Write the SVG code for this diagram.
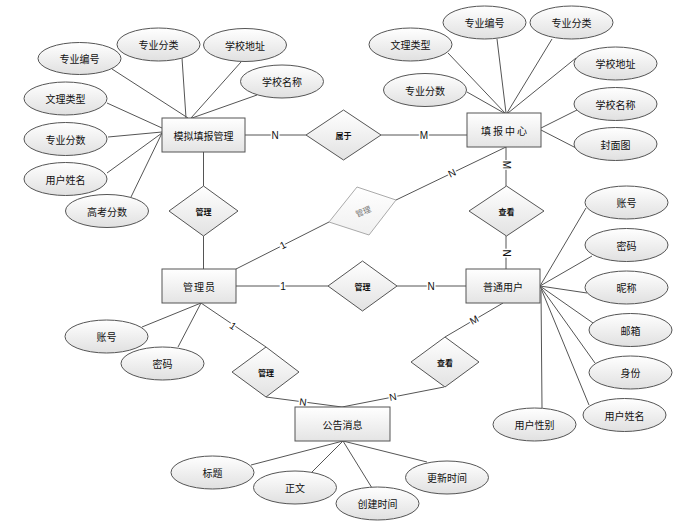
<svg xmlns="http://www.w3.org/2000/svg" width="694" height="527" viewBox="0 0 694 527">
<defs>
<linearGradient id="gE" x1="0" y1="0" x2="0" y2="1"><stop offset="0" stop-color="#ffffff"/><stop offset="1" stop-color="#e4e4e4"/></linearGradient>
<linearGradient id="gA" x1="0" y1="0" x2="0" y2="1"><stop offset="0" stop-color="#ffffff"/><stop offset="1" stop-color="#e0e0e0"/></linearGradient>
<linearGradient id="gR" x1="0" y1="0" x2="0" y2="1"><stop offset="0" stop-color="#ffffff"/><stop offset="1" stop-color="#e2e2e2"/></linearGradient>
<linearGradient id="gF" x1="0" y1="0" x2="0" y2="1"><stop offset="0" stop-color="#ffffff"/><stop offset="1" stop-color="#f0f0f0"/></linearGradient>
</defs>
<style>
text{font-family:"Noto Sans CJK SC","Liberation Sans",sans-serif;fill:#111;text-anchor:middle;dominant-baseline:central}
.ent rect{fill:url(#gE);stroke:#555;stroke-width:1}
.ent text{font-size:10px}
.att ellipse{fill:url(#gA);stroke:#555;stroke-width:1}
.att text{font-size:10px}
.rel polygon{fill:url(#gR);stroke:#555;stroke-width:1}
.rel text{font-size:8px;font-weight:bold}
.faded polygon{fill:url(#gF);stroke:#aaa;stroke-width:1}
.faded text{font-size:8px;fill:#777}
#connectors line{stroke:#555;stroke-width:1}
.card{font-family:"Liberation Sans",sans-serif;font-size:10px;fill:#111;stroke:#fff;stroke-width:3px;paint-order:stroke}
</style>
<rect width="694" height="527" fill="#fff"/>
<g id="connectors">
<line x1="112" y1="69" x2="188" y2="118"/>
<line x1="182" y1="58" x2="186" y2="118"/>
<line x1="241" y1="62" x2="191" y2="118"/>
<line x1="257" y1="95" x2="192" y2="118"/>
<line x1="107" y1="103" x2="162" y2="128"/>
<line x1="108" y1="137" x2="162" y2="132"/>
<line x1="107" y1="173" x2="162" y2="133"/>
<line x1="131" y1="197" x2="162" y2="133"/>
<line x1="448" y1="53" x2="505" y2="113"/>
<line x1="497" y1="39" x2="506" y2="113"/>
<line x1="552" y1="39" x2="507" y2="113"/>
<line x1="576" y1="58" x2="508" y2="113"/>
<line x1="467" y1="92" x2="504" y2="113"/>
<line x1="577" y1="110" x2="541" y2="128"/>
<line x1="576" y1="148" x2="541" y2="130"/>
<line x1="586" y1="208" x2="540" y2="286"/>
<line x1="592" y1="256" x2="540" y2="286"/>
<line x1="587" y1="293" x2="540" y2="286"/>
<line x1="593" y1="323" x2="540" y2="286"/>
<line x1="595" y1="363" x2="540" y2="286"/>
<line x1="589" y1="405" x2="540" y2="286"/>
<line x1="541" y1="290" x2="542" y2="408"/>
<line x1="142" y1="327" x2="201" y2="303"/>
<line x1="178" y1="347" x2="201" y2="303"/>
<line x1="251" y1="465" x2="343" y2="441"/>
<line x1="312" y1="472" x2="343" y2="441"/>
<line x1="372" y1="488" x2="343" y2="441"/>
<line x1="427" y1="462" x2="343" y2="441"/>
<line x1="245" y1="135" x2="306" y2="135"/>
<line x1="381" y1="135" x2="467" y2="135"/>
<line x1="203.5" y1="152" x2="203.5" y2="186"/>
<line x1="203.5" y1="236" x2="203.5" y2="269"/>
<line x1="236" y1="269" x2="329" y2="222"/>
<line x1="396" y1="200" x2="506" y2="147"/>
<line x1="506" y1="147" x2="506" y2="186"/>
<line x1="506" y1="236" x2="506" y2="269"/>
<line x1="236" y1="286" x2="328" y2="286"/>
<line x1="397" y1="286" x2="466" y2="286"/>
<line x1="201" y1="303" x2="266" y2="347"/>
<line x1="266" y1="397" x2="342" y2="407"/>
<line x1="503" y1="303" x2="445" y2="337"/>
<line x1="444" y1="387" x2="342" y2="407"/>
<text class="card" x="275" y="135">N</text>
<text class="card" x="424" y="135">M</text>
<text class="card" transform="translate(283,245) rotate(-27)">1</text>
<text class="card" transform="translate(452,173) rotate(-26)">N</text>
<text class="card" transform="translate(506,165) rotate(90)">M</text>
<text class="card" transform="translate(506,253) rotate(90)">N</text>
<text class="card" x="283" y="286">1</text>
<text class="card" x="431" y="286">N</text>
<text class="card" transform="translate(233,326) rotate(34)">1</text>
<text class="card" transform="translate(303,402) rotate(7)">N</text>
<text class="card" transform="translate(474,320) rotate(-30)">M</text>
<text class="card" transform="translate(393,397) rotate(-11)">N</text>
</g>
<g id="e-mnt" class="ent"><rect x="162" y="118" width="83" height="34"/><text x="203.5" y="135">模拟填报管理</text></g>
<g id="e-tbzx" class="ent"><rect x="467" y="113" width="74" height="34"/><text x="505" y="130" style="letter-spacing:2px">填报中心</text></g>
<g id="e-gly" class="ent"><rect x="162" y="269" width="74" height="34"/><text x="199.5" y="286" style="letter-spacing:1px">管理员</text></g>
<g id="e-ptyh" class="ent"><rect x="466" y="269" width="74" height="34"/><text x="503" y="286">普通用户</text></g>
<g id="e-ggxx" class="ent"><rect x="295" y="407" width="95" height="34"/><text x="342.5" y="424">公告消息</text></g>
<g id="r-sy" class="rel"><polygon points="306,135 343.5,110 381,135 343.5,160"/><text x="343.5" y="135">属于</text></g>
<g id="r-gl1" class="rel"><polygon points="169,211 203.5,186 238,211 203.5,236"/><text x="203.5" y="211">管理</text></g>
<g id="r-ck1" class="rel"><polygon points="469,211 506.5,186 544,211 506.5,236"/><text x="506.5" y="211">查看</text></g>
<g id="r-gl2" class="rel"><polygon points="328,286 362.5,261 397,286 362.5,311"/><text x="362.5" y="286">管理</text></g>
<g id="r-ck2" class="rel"><polygon points="411,362 445,337 479,362 445,387"/><text x="445" y="362">查看</text></g>
<g id="r-gl3" class="rel"><polygon points="232,372 266,347 299,372 266,397"/><text x="266" y="372">管理</text></g>
<g id="r-gl4" class="faded"><polygon points="357,187 396,200 369,235 329,222"/><text transform="translate(363,211) rotate(-22)">管理</text></g>
<g id="a-left" class="att">
<ellipse cx="79.5" cy="58.5" rx="41.5" ry="16"/><text x="79.5" y="58.5">专业编号</text>
<ellipse cx="158.5" cy="44.5" rx="41.5" ry="16.5"/><text x="158.5" y="44.5">专业分类</text>
<ellipse cx="245" cy="45" rx="41.5" ry="16.5"/><text x="245" y="45">学校地址</text>
<ellipse cx="282" cy="81.5" rx="41.5" ry="16.5"/><text x="282" y="81.5">学校名称</text>
<ellipse cx="65.5" cy="98.5" rx="41.5" ry="16.5"/><text x="65.5" y="98.5">文理类型</text>
<ellipse cx="65.5" cy="139" rx="41.5" ry="16.5"/><text x="65.5" y="139">专业分数</text>
<ellipse cx="65.5" cy="179" rx="41.5" ry="16.5"/><text x="65.5" y="179">用户姓名</text>
<ellipse cx="107" cy="211" rx="41.5" ry="16.5"/><text x="107" y="211">高考分数</text>
</g>
<g id="a-right" class="att">
<ellipse cx="410.5" cy="44.5" rx="41.5" ry="16.5"/><text x="410.5" y="44.5">文理类型</text>
<ellipse cx="484.5" cy="22.5" rx="41.5" ry="16.5"/><text x="484.5" y="22.5">专业编号</text>
<ellipse cx="571.5" cy="22.5" rx="41.5" ry="16.5"/><text x="571.5" y="22.5">专业分类</text>
<ellipse cx="615.5" cy="63.5" rx="41.5" ry="16.5"/><text x="615.5" y="63.5">学校地址</text>
<ellipse cx="615.5" cy="104" rx="41.5" ry="16.5"/><text x="615.5" y="104">学校名称</text>
<ellipse cx="615.5" cy="144" rx="41.5" ry="16.5"/><text x="615.5" y="144">封面图</text>
<ellipse cx="425" cy="90" rx="41.5" ry="16.5"/><text x="425" y="90">专业分数</text>
</g>
<g id="a-user" class="att">
<ellipse cx="626.5" cy="202.5" rx="41.5" ry="16.5"/><text x="626.5" y="202.5">账号</text>
<ellipse cx="626.5" cy="245" rx="41.5" ry="16.5"/><text x="626.5" y="245">密码</text>
<ellipse cx="626.5" cy="287.5" rx="41.5" ry="16.5"/><text x="626.5" y="287.5">昵称</text>
<ellipse cx="630.5" cy="330" rx="41.5" ry="16.5"/><text x="630.5" y="330">邮箱</text>
<ellipse cx="630.5" cy="372.5" rx="41.5" ry="16.5"/><text x="630.5" y="372.5">身份</text>
<ellipse cx="624.5" cy="415" rx="41.5" ry="16.5"/><text x="624.5" y="415">用户姓名</text>
<ellipse cx="534.5" cy="424.5" rx="41.5" ry="16.5"/><text x="534.5" y="424.5">用户性别</text>
</g>
<g id="a-admin" class="att">
<ellipse cx="106.5" cy="336.5" rx="41.5" ry="16.5"/><text x="106.5" y="336.5">账号</text>
<ellipse cx="162.5" cy="363.5" rx="41.5" ry="16.5"/><text x="162.5" y="363.5">密码</text>
</g>
<g id="a-notice" class="att">
<ellipse cx="212.5" cy="472.5" rx="41.5" ry="16.5"/><text x="212.5" y="472.5">标题</text>
<ellipse cx="295" cy="487.5" rx="41.5" ry="16.5"/><text x="295" y="487.5">正文</text>
<ellipse cx="447" cy="477.5" rx="41.5" ry="16.5"/><text x="447" y="477.5">更新时间</text>
<ellipse cx="377.5" cy="503.5" rx="41.5" ry="16.5"/><text x="377.5" y="503.5">创建时间</text>
</g>
</svg>
